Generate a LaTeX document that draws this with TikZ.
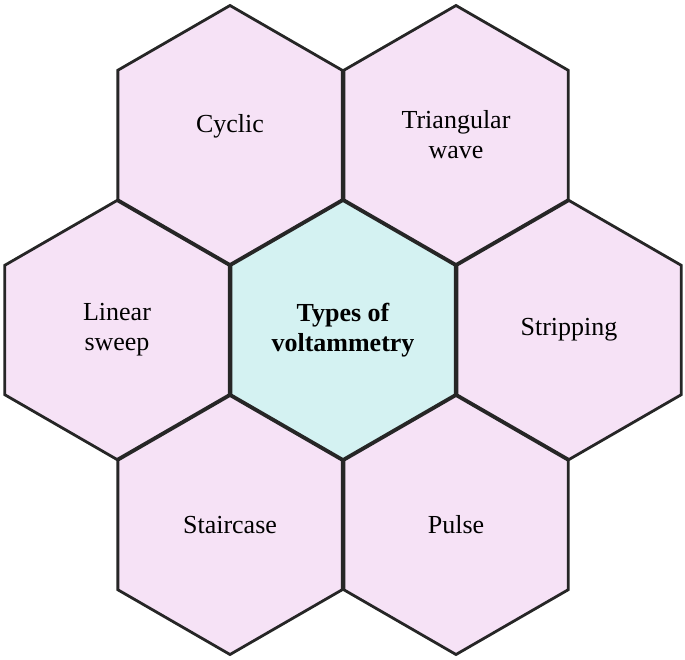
\documentclass[tikz,border=0pt]{standalone}
\usepackage{fontspec}
\setmainfont{Liberation Serif}
\usetikzlibrary{shapes.geometric}
\definecolor{hexpink}{RGB}{246,226,246}
\definecolor{hexcyan}{RGB}{212,242,242}
\tikzset{hexa/.style={regular polygon, regular polygon sides=6, shape border rotate=30,
  minimum size=259pt, inner sep=0pt, outer sep=0pt, draw=black!85, line width=2.8pt,
  fill=hexpink, align=center, font=\fontsize{26}{30}\selectfont}}
\begin{document}
\begin{tikzpicture}[x=1pt,y=-1pt]
\useasboundingbox (0,0) rectangle (685,659);
\node[hexa] (cyc) at (230,135) {};
\node (cyclbl) at (cyc.center) [yshift=9pt, font=\fontsize{26}{30}\selectfont] {Cyclic};
\node[hexa] (tri) at (456,135) {Triangular\\wave};
\node[hexa] (lin) at (117,330) {Linear\\sweep};
\node[hexa] (str) at (569,330) {Stripping};
\node[hexa] (sta) at (230,525) {Staircase};
\node[hexa] (pul) at (456,525) {Pulse};
\node[hexa, fill=hexcyan, font=\fontsize{26}{30}\selectfont\bfseries] (ctr) at (343,330) {Types of\\voltammetry};
\end{tikzpicture}
\end{document}
